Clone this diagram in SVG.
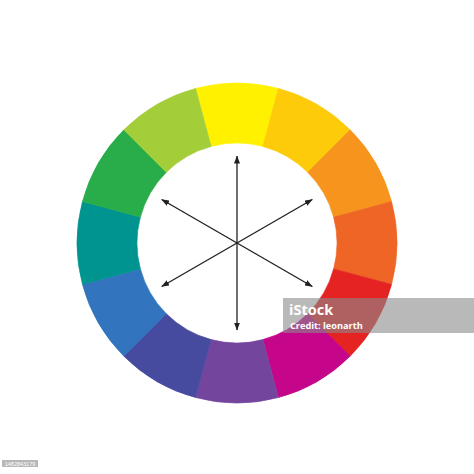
<svg xmlns="http://www.w3.org/2000/svg" xmlns:xlink="http://www.w3.org/1999/xlink" width="474" height="474" viewBox="0 0 474 474">
<style>
.seg{stroke-width:0.6}
.arrow{stroke:#231f20;stroke-width:1.3;fill:none;marker-start:url(#ah);marker-end:url(#ah)}
.wm1{font-family:"Open Sans","Liberation Sans",sans-serif;font-weight:bold;fill:#fff}
</style>
<defs>
<path id="s" d="M195.589,88.452 A160,160 0 0 1 278.411,88.452 L262.882,146.407 A100,100 0 0 0 211.118,146.407 Z"/>
<marker id="ah" markerUnits="userSpaceOnUse" markerWidth="8" markerHeight="6" refX="7.5" refY="3" orient="auto-start-reverse">
<path d="M0,0 L8,3 L0,6 Z" fill="#231f20"/>
</marker>
</defs>
<rect width="474" height="474" fill="#fff"/>
<g id="wheel">
<g id="yellow"><use xlink:href="#s" class="seg" fill="#FFF100" stroke="#FFF100"/></g>
<g id="yellow-orange"><use xlink:href="#s" class="seg" fill="#FECB0A" stroke="#FECB0A" transform="rotate(30 237 243)"/></g>
<g id="orange"><use xlink:href="#s" class="seg" fill="#F7941E" stroke="#F7941E" transform="rotate(60 237 243)"/></g>
<g id="orange-red"><use xlink:href="#s" class="seg" fill="#EF6526" stroke="#EF6526" transform="rotate(90 237 243)"/></g>
<g id="red"><use xlink:href="#s" class="seg" fill="#E42322" stroke="#E42322" transform="rotate(120 237 243)"/></g>
<g id="magenta"><use xlink:href="#s" class="seg" fill="#C6068A" stroke="#C6068A" transform="rotate(150 237 243)"/></g>
<g id="violet"><use xlink:href="#s" class="seg" fill="#74459D" stroke="#74459D" transform="rotate(180 237 243)"/></g>
<g id="blue-violet"><use xlink:href="#s" class="seg" fill="#464B9F" stroke="#464B9F" transform="rotate(210 237 243)"/></g>
<g id="blue"><use xlink:href="#s" class="seg" fill="#3274BE" stroke="#3274BE" transform="rotate(240 237 243)"/></g>
<g id="teal"><use xlink:href="#s" class="seg" fill="#009490" stroke="#009490" transform="rotate(270 237 243)"/></g>
<g id="green"><use xlink:href="#s" class="seg" fill="#28AD4A" stroke="#28AD4A" transform="rotate(300 237 243)"/></g>
<g id="yellow-green"><use xlink:href="#s" class="seg" fill="#A4CD3A" stroke="#A4CD3A" transform="rotate(330 237 243)"/></g>
</g>
<g id="connectors">
<line class="arrow" x1="237" y1="156" x2="237" y2="330"/>
<line class="arrow" x1="161.7" y1="199.5" x2="312.3" y2="286.5"/>
<line class="arrow" x1="161.7" y1="286.5" x2="312.3" y2="199.5"/>
</g>
<g id="watermark">
<rect x="283" y="298" width="191" height="35" fill="#8a8a8a" fill-opacity="0.6"/>
<text class="wm1" x="289" y="314.5" font-size="14.5">iStock</text>
<text class="wm1" x="290" y="328.5" font-size="9.2">Credit: leonarth</text>
<rect x="2" y="460" width="36" height="7" fill="#9a9a9a" fill-opacity="0.7"/>
<text x="20" y="465.7" font-size="5.5" text-anchor="middle" font-family="Liberation Sans,sans-serif" fill="#fff">1482843179</text>
</g>
</svg>
